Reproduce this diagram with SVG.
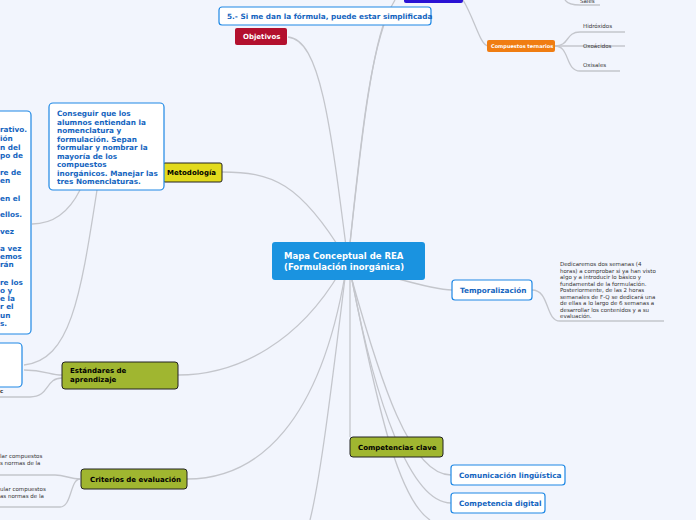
<svg xmlns="http://www.w3.org/2000/svg" width="696" height="520" viewBox="0 0 696 520">
<style>
text{font-family:Verdana,"DejaVu Sans",sans-serif;font-weight:bold}
.c{fill:none;stroke:#c4c6cc;stroke-width:1.3}
.w{fill:#fff;stroke:#1e88e5;stroke-width:1.2}
.bt{fill:#1565c0;font-size:7.3px}
.ol{stroke:#222;stroke-width:1}
.sm{font-size:5.5px;font-weight:normal;fill:#333}
</style>
<rect width="696" height="520" fill="#f2f5fd"/>
<g id="connectors">
<path class="c" d="M348 262 C360 150 370 60 385 20"/>
<path class="c" d="M348 262 C330 120 320 40 288 37"/>
<path class="c" d="M348 262 C300 180 270 172 222 172"/>
<path class="c" d="M340 272 C300 340 240 375 178 375"/>
<path class="c" d="M345 275 C320 420 260 479 187 479"/>
<path class="c" d="M350 280 L350 437"/>
<path class="c" d="M352 280 C380 380 410 475 451 475"/>
<path class="c" d="M352 280 C375 400 410 503 451 503"/>
<path class="c" d="M352 280 C380 420 400 500 430 520"/>
<path class="c" d="M345 278 C330 400 320 480 310 520"/>
<path class="c" d="M395 278 C420 285 440 290 452 290"/>
<path class="c" d="M532 290 C550 290 545 321 560 321 L664 321"/>
<path class="c" d="M395 0 C370 40 360 150 350 243"/>
<path class="c" d="M463 0 C475 20 480 45 488 46"/>
<path class="c" d="M555 46 C570 46 565 32 580 32 L625 32"/>
<path class="c" d="M555 46 L625 46"/>
<path class="c" d="M555 46 C570 46 565 71 580 71 L620 71"/>
<path class="c" d="M565 0 C568 4 575 5 580 5 L600 5"/>
<path class="c" d="M97 190 C80 300 70 360 24 365"/>
<path class="c" d="M80 190 C70 210 55 224 32 224"/>
<path class="c" d="M62 375 C50 375 45 370 24 370"/>
<path class="c" d="M62 378 C45 378 50 397 30 397 L0 397"/>
<path class="c" d="M80 479 C70 479 65 475 55 475 L0 475"/>
<path class="c" d="M80 479 C70 479 72 507 60 507 L0 507"/>
</g>
<g id="center"><rect x="272" y="242" width="153" height="38" rx="3" fill="#1a93e0"/>
<text x="284" y="259" font-size="8.5" fill="#fff">Mapa Conceptual de REA</text>
<text x="284" y="270" font-size="8.5" fill="#fff">(Formulación inorgánica)</text></g>
<g id="top"><rect x="404" y="-6" width="59" height="9" rx="2" fill="#2a12d4"/></g>
<g id="formula"><rect class="w" x="219" y="7" width="212" height="18" rx="3"/><text class="bt" x="227" y="19">5.- Si me dan la fórmula, puede estar simplificada</text></g>
<g id="objetivos"><rect x="235" y="28" width="52" height="17" rx="2" fill="#b3102e"/><text x="243" y="39" font-size="7" fill="#fff">Objetivos</text></g>
<g id="metodologia"><rect class="ol" x="163" y="163" width="59" height="19" rx="2" fill="#e2da1c"/><text x="167" y="175" font-size="7">Metodología</text></g>
<g id="conseguir"><rect class="w" x="49" y="103" width="115" height="87" rx="4"/>
<text class="bt" font-size="7"><tspan x="57" y="116">Conseguir que los</tspan><tspan x="57" y="124.5">alumnos entiendan la</tspan><tspan x="57" y="133">nomenclatura y</tspan><tspan x="57" y="141.5">formulación. Sepan</tspan><tspan x="57" y="150">formular y nombrar la</tspan><tspan x="57" y="158.5">mayoría de los</tspan><tspan x="57" y="167">compuestos</tspan><tspan x="57" y="175.5">inorgánicos. Manejar las</tspan><tspan x="57" y="184">tres Nomenclaturas.</tspan></text></g>
<g id="leftbox"><rect class="w" x="-10" y="111" width="41" height="223" rx="4"/>
<text class="bt" font-size="7"><tspan x="0" y="132">rativo.</tspan><tspan x="0" y="141">ión</tspan><tspan x="0" y="150">n del</tspan><tspan x="0" y="158">po de</tspan><tspan x="0" y="175">re de</tspan><tspan x="0" y="183">en</tspan><tspan x="0" y="201">en el</tspan><tspan x="0" y="217">ellos.</tspan><tspan x="0" y="234">vez</tspan><tspan x="0" y="251">a vez</tspan><tspan x="0" y="259">emos</tspan><tspan x="0" y="267">rán</tspan><tspan x="0" y="285">re los</tspan><tspan x="0" y="293">o y</tspan><tspan x="0" y="301">e la</tspan><tspan x="0" y="309">r el</tspan><tspan x="0" y="318">un</tspan><tspan x="0" y="326">s.</tspan></text></g>
<g id="leftbox2"><rect class="w" x="-10" y="343" width="32" height="44" rx="4"/><text x="0" y="393" font-size="5.5" fill="#333">c</text></g>
<g id="estandares"><rect class="ol" x="62" y="362" width="116" height="27" rx="3" fill="#a0b630"/><text font-size="7"><tspan x="70" y="373">Estándares de</tspan><tspan x="70" y="382">aprendizaje</tspan></text></g>
<g id="criterios"><rect class="ol" x="81" y="469" width="106" height="20" rx="3" fill="#a0b630"/><text x="90" y="482" font-size="7">Criterios de evaluación</text></g>
<g id="crit-texts"><text class="sm"><tspan x="0" y="458">lar compuestos</tspan><tspan x="0" y="465">s normas de la</tspan><tspan x="0" y="491">ular compuestos</tspan><tspan x="0" y="498">as normas de la</tspan></text></g>
<g id="competencias"><rect class="ol" x="350" y="437" width="93" height="20" rx="3" fill="#a0b630"/><text x="358" y="450" font-size="7">Competencias clave</text></g>
<g id="comunicacion"><rect class="w" x="451" y="465" width="114" height="20" rx="3"/><text class="bt" x="459" y="478" font-size="7">Comunicación lingüística</text></g>
<g id="digital"><rect class="w" x="451" y="493" width="94" height="20" rx="3"/><text class="bt" x="459" y="506" font-size="7">Competencia digital</text></g>
<g id="temporalizacion"><rect class="w" x="452" y="280" width="80" height="20" rx="3"/><text class="bt" x="460" y="293">Temporalización</text></g>
<g id="temp-text"><text class="sm"><tspan x="560" y="266">Dedicaremos dos semanas (4</tspan><tspan x="560" y="272.5">horas) a comprobar si ya han visto</tspan><tspan x="560" y="279">algo y a introducir lo básico y</tspan><tspan x="560" y="285.5">fundamental de la formulación.</tspan><tspan x="560" y="292">Posteriormente, de las 2 horas</tspan><tspan x="560" y="298.5">semanales de F-Q se dedicará una</tspan><tspan x="560" y="305">de ellas a lo largo de 6 semanas a</tspan><tspan x="560" y="311.5">desarrollar los contenidos y a su</tspan><tspan x="560" y="318">evaluación.</tspan></text></g>
<g id="ternarios"><rect x="487" y="40" width="68" height="12" rx="2" fill="#f07d12"/><text x="491" y="48" font-size="5" font-weight="normal" fill="#fff">Compuestos ternarios</text></g>
<g id="ternary-items"><text class="sm"><tspan x="583" y="28">Hidróxidos</tspan><tspan x="583" y="48">Oxoácidos</tspan><tspan x="583" y="67">Oxisales</tspan><tspan x="580" y="3">Sales</tspan></text></g>
</svg>
